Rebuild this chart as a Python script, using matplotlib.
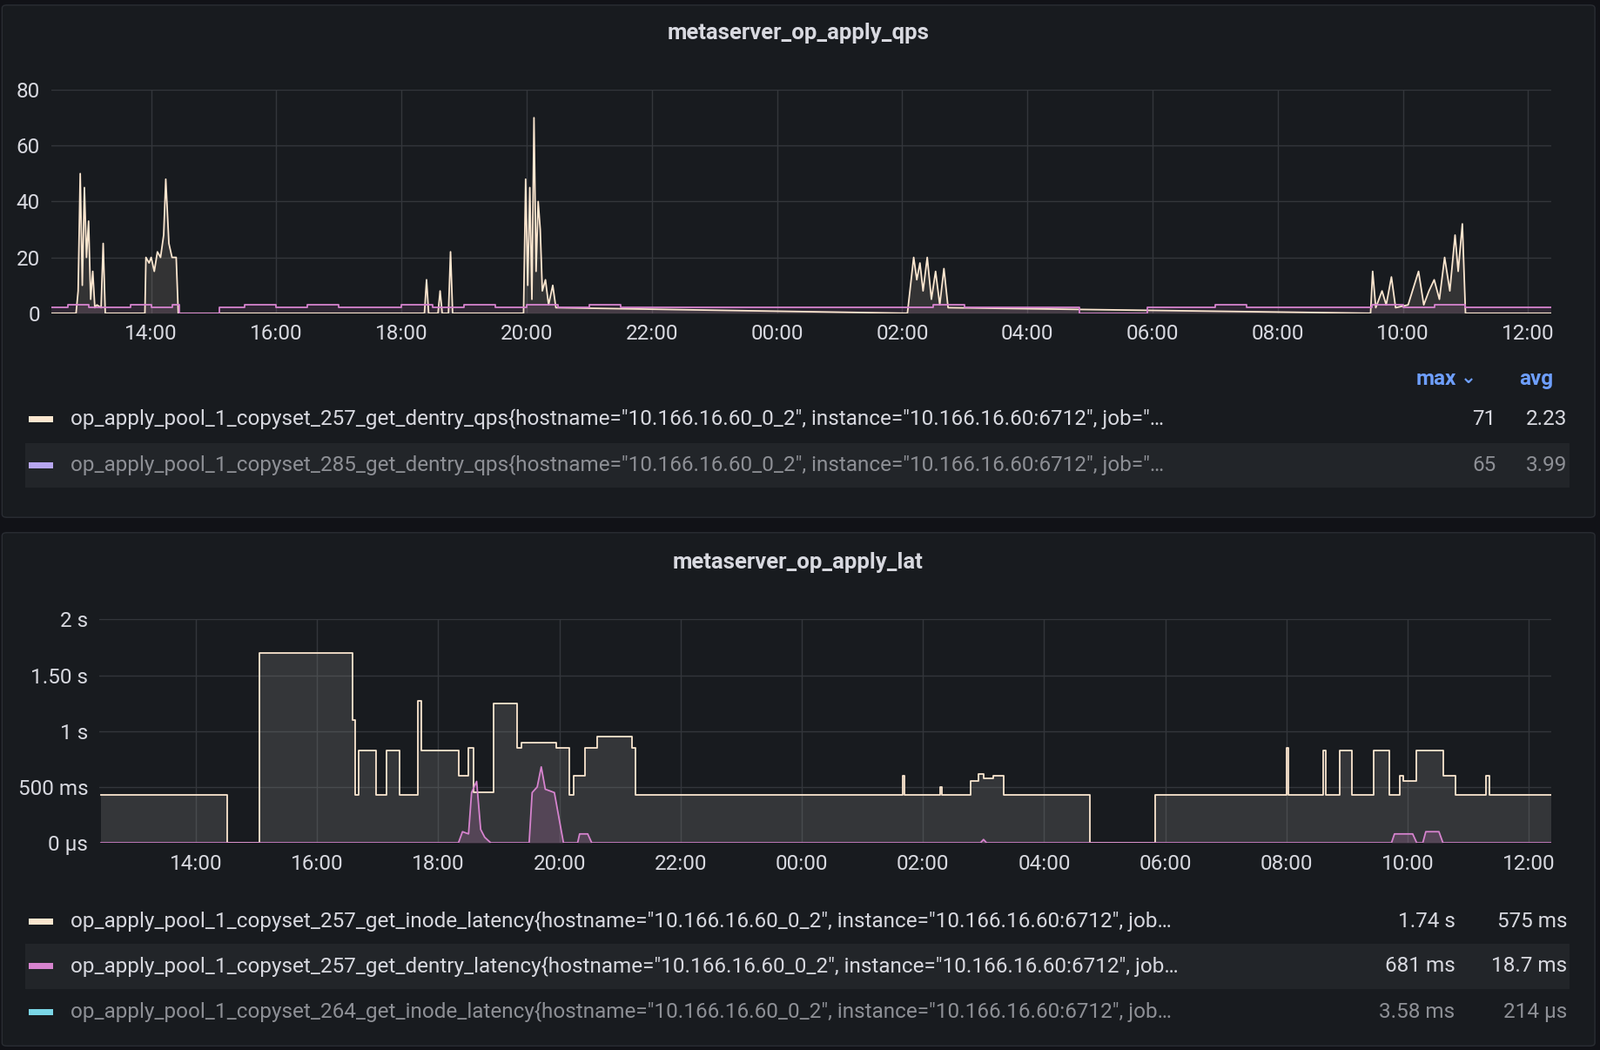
import matplotlib
matplotlib.use("Agg")
import matplotlib.pyplot as plt
from matplotlib.patches import FancyBboxPatch, Rectangle
from datetime import datetime, timedelta

plt.rcParams["font.family"] = "Roboto"

W, H = 1568, 1029
BASE = datetime(2023, 1, 1, 0, 0)

def T(s):
    hh, mm = map(int, s.split(":"))
    d = 1 if hh * 60 + mm < 12 * 60 + 24 else 0
    return BASE + timedelta(days=d, hours=hh, minutes=mm)

START, END = T("12:24"), T("12:22")

# ---------------- data ----------------
qps_257_t = ["12:24","12:48","12:50","12:52","12:54","12:56","12:58","13:00","13:02","13:04","13:06","13:08","13:12","13:14","13:16",
             "13:54","13:55","13:58","14:00","14:03","14:06","14:09","14:12","14:14","14:17","14:20","14:24","14:26",
             "18:22","18:24","18:26","18:35","18:37","18:39","18:45","18:47","18:49",
             "19:57","19:59","20:01","20:03","20:05","20:07","20:09","20:11","20:13","20:15","20:18","20:21","20:25","20:28",
             "02:05","02:08","02:11","02:14","02:17","02:20","02:24","02:28","02:32","02:36","02:40","02:44",
             "09:29","09:31","09:34","09:40","09:44","09:49","09:53","10:05","10:15","10:20","10:25","10:30","10:35","10:40","10:45","10:50","10:53","10:57","11:00","12:22"]
qps_257_v = [0,0,8,50,10,45,20,33,5,15,2,3,2,25,0,
             0,20,18,20,15,22,20,28,48,25,20,20,0,
             0,12,0,0,8,0,0,22,0,
             0,48,10,45,5,70,15,40,30,8,12,3,10,2,
             0,10,20,12,18,8,20,5,15,3,16,2,
             0,15,2,8,3,13,2,3,15,3,8,12,5,20,8,28,15,32,0,0]

qps_285_t = ["12:24","12:40","13:00","13:20","13:40","14:00","14:20","14:27","15:05","15:30","16:00","16:30","17:00","17:30","18:00",
             "18:30","19:00","19:30","20:00","20:30","21:00","21:30","22:00","22:30","23:00","23:30","00:00","00:30","01:00",
             "01:30","02:00","02:30","03:00","03:30","04:00","04:30","04:50","05:55","06:30","07:00","07:30","08:00","08:30",
             "09:00","09:30","10:00","10:30","11:00","11:30","12:00","12:22"]
qps_285_v = [2,3,2,2,3,2,3,0,2,3,2,3,2,2,3,
             2,3,2,3,2,3,2,2,2,2,2,2,2,2,
             2,2,3,2,2,2,2,0,2,2,3,2,2,2,
             2,3,2,3,2,2,2,2]

lat_257_inode_t = ["12:26","14:31","15:03","16:35","16:38","16:41","16:58","17:09","17:22","17:40","17:43","17:46","18:20","18:30","18:35",
                   "18:55","19:18","19:22","19:57","20:10","20:14","20:25","20:37","21:12","21:15","21:17","21:26",
                   "01:40","01:42","02:17","02:19","02:47","02:55","03:00","03:10","03:20","04:45","05:50",
                   "08:00","08:02","08:36","08:39","08:53","09:05","09:26","09:42","09:52","09:56","10:09","10:35","10:47","10:56","11:18","11:21","12:22"]
lat_257_inode_v = [0.43,0,1.70,1.1,0.43,0.83,0.43,0.83,0.43,1.27,0.83,0.83,0.60,0.85,0.45,
                   1.25,0.85,0.90,0.85,0.43,0.60,0.85,0.95,0.85,0.43,0.43,0.43,
                   0.60,0.43,0.50,0.43,0.55,0.62,0.58,0.60,0.43,0,0.43,
                   0.85,0.43,0.83,0.43,0.83,0.43,0.83,0.43,0.60,0.55,0.83,0.60,0.43,0.43,0.60,0.43,0.43]

lat_257_dentry_t = ["12:26","18:20","18:24","18:30","18:33","18:38","18:42","18:46","18:52","19:30","19:33","19:38","19:42","19:46","19:55","20:02","20:04",
                    "20:18","20:20","20:28","20:32","02:57","03:00","03:03",
                    "09:44","09:47","10:05","10:09","10:15","10:18","10:31","10:35","12:22"]
lat_257_dentry_v = [0,0,0.1,0.08,0.45,0.55,0.12,0.05,0,0,0.45,0.5,0.68,0.48,0.45,0.1,0,
                    0,0.08,0.08,0,0,0.03,0,
                    0,0.08,0.08,0,0,0.1,0.1,0,0]

legend_top = [("op_apply_pool_1_copyset_257_get_dentry_qps{hostname=\"10.166.16.60_0_2\", instance=\"10.166.16.60:6712\", job=\"…", "71", "2.23", "#fbe6cf"),
              ("op_apply_pool_1_copyset_285_get_dentry_qps{hostname=\"10.166.16.60_0_2\", instance=\"10.166.16.60:6712\", job=\"…", "65", "3.99", "#b7a6f0")]
legend_bot = [("op_apply_pool_1_copyset_257_get_inode_latency{hostname=\"10.166.16.60_0_2\", instance=\"10.166.16.60:6712\", job…", "1.74 s", "575 ms", "#fbe6cf"),
              ("op_apply_pool_1_copyset_257_get_dentry_latency{hostname=\"10.166.16.60_0_2\", instance=\"10.166.16.60:6712\", job…", "681 ms", "18.7 ms", "#d683ce"),
              ("op_apply_pool_1_copyset_264_get_inode_latency{hostname=\"10.166.16.60_0_2\", instance=\"10.166.16.60:6712\", job…", "3.58 ms", "214 μs", "#7ad6e6")]

x_ticks = ["14:00","16:00","18:00","20:00","22:00","00:00","02:00","04:00","06:00","08:00","10:00","12:00"]

# ---------------- drawing ----------------
BG, PANEL, BORDER = "#111217", "#181b1f", "#2a2d33"
GRID, TXT, DIM = "#33363b", "#d8d9e0", "#8e9096"
FS = 17.5
fig = plt.figure(figsize=(18.38, 12.06), dpi=100, facecolor=BG)

def fx(x): return x / W
def fy(y): return 1 - y / H

for (y0, y1) in [(5, 507), (522, 1025)]:
    fig.patches.append(FancyBboxPatch((fx(2), fy(y1)), fx(1561), (y1 - y0) / H,
                       boxstyle="round,pad=0,rounding_size=0.003", transform=fig.transFigure,
                       facecolor=PANEL, edgecolor=BORDER, lw=1, zorder=-5))

def make_ax(x0, x1, ytop, ybot):
    ax = fig.add_axes([fx(x0), fy(ybot), fx(x1 - x0), (ybot - ytop) / H])
    ax.set_zorder(2)
    ax.patch.set_alpha(0)
    for s in ax.spines.values(): s.set_visible(False)
    ax.grid(True, color=GRID, lw=1)
    ax.set_axisbelow(True)
    ax.tick_params(colors=TXT, labelsize=FS, length=0, pad=9)
    ax.set_xlim(START, END)
    ax.set_xticks([T(t) for t in x_ticks])
    ax.set_xticklabels(x_ticks)
    return ax

# top
ax1 = make_ax(50, 1520, 88, 307)
ax1.set_ylim(0, 80); ax1.set_yticks([0, 20, 40, 60, 80])
t1 = [T(t) for t in qps_257_t]; t2 = [T(t) for t in qps_285_t]
ax1.fill_between(t1, qps_257_v, color="#fbe6cf", alpha=0.12, lw=0)
ax1.plot(t1, qps_257_v, color="#fbe6cf", lw=1.3)
ax1.fill_between(t2, qps_285_v, color="#d683ce", alpha=0.12, lw=0, step="post")
ax1.plot(t2, qps_285_v, color="#d683ce", lw=1.3, drawstyle="steps-post")
fig.text(fx(782), fy(32), "metaserver_op_apply_qps", color=TXT, fontsize=FS + 1, weight="bold", ha="center", va="center")

# bottom
ax2 = make_ax(97, 1520, 607, 826)
ax2.set_ylim(0, 2); ax2.set_yticks([0, 0.5, 1, 1.5, 2])
ax2.set_yticklabels(["0 μs", "500 ms", "1 s", "1.50 s", "2 s"])
b1 = [T(t) for t in lat_257_inode_t]; b2 = [T(t) for t in lat_257_dentry_t]
ax2.fill_between(b1, lat_257_inode_v, color="#8a8a8a", alpha=0.25, lw=0, step="post")
ax2.plot(b1, lat_257_inode_v, color="#fbe6cf", lw=1.3, drawstyle="steps-post")
ax2.fill_between(b2, lat_257_dentry_v, color="#d683ce", alpha=0.2, lw=0)
ax2.plot(b2, lat_257_dentry_v, color="#d683ce", lw=1.3)
fig.text(fx(782), fy(551), "metaserver_op_apply_lat", color=TXT, fontsize=FS + 1, weight="bold", ha="center", va="center")

# legends
fig.text(fx(1427), fy(372), "max", color="#6e9fff", fontsize=FS, weight="bold", ha="right", va="center")
fig.text(fx(1439), fy(370), "⌄", color="#6e9fff", fontsize=FS - 2, weight="bold", ha="center", va="center",
         fontfamily="DejaVu Sans")
fig.text(fx(1522), fy(372), "avg", color="#6e9fff", fontsize=FS, weight="bold", ha="right", va="center")

def legend(rows, ys, highlight, dim, maxx, avgx):
    for i, ((name, mx, av, col), y) in enumerate(zip(rows, ys)):
        c = DIM if i == dim else TXT
        if i == highlight:
            fig.patches.append(Rectangle((fx(25), fy(y + 22)), fx(1513), 44 / H, transform=fig.transFigure,
                                         facecolor="#222529", lw=0, zorder=-4))
        fig.patches.append(Rectangle((fx(28), fy(y + 3)), fx(24), 6 / H, transform=fig.transFigure,
                                     facecolor=col, lw=0))
        fig.text(fx(69), fy(y), name, color=c, fontsize=FS, va="center")
        fig.text(fx(maxx), fy(y), mx, color=c, fontsize=FS, ha="right", va="center")
        fig.text(fx(avgx), fy(y), av, color=c, fontsize=FS, ha="right", va="center")

legend(legend_top, [411, 456], 1, 1, 1466, 1536)
legend(legend_bot, [903, 947, 992], 1, 2, 1426, 1536)

fig.savefig("out.png", dpi=100, facecolor=BG)
